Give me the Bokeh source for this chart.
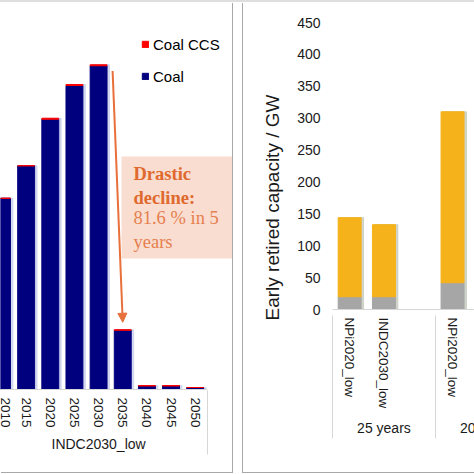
from bokeh.plotting import figure
from bokeh.layouts import row, column
from bokeh.models import (Range1d, LinearAxis, FixedTicker, Legend, LegendItem,
                          BoxAnnotation, Label, Arrow, NormalHead, Spacer,
                          ColumnDataSource, Title)
from bokeh.transform import dodge
from bokeh.embed import file_html
from bokeh.resources import INLINE

# ---------------- data ----------------
# Left panel: coal power capacity in the INDC2030_low pathway (GW)
years = ["2010", "2015", "2020", "2025", "2030", "2035", "2040", "2045", "2050"]
coal = [765, 895, 1081, 1216, 1295, 237, 14, 14, 8]
coal_ccs = [0, 0, 4, 4, 4, 2, 2, 2, 0]
scenario_left = "INDC2030_low"

# Right panel: early retired capacity (GW) by lifetime assumption and scenario
groups = ["25 years", "20 years"]
group_scenarios = [["NPi2020_low", "INDC2030_low"], ["NPi2020_low"]]
retired_lower = [20, 20, 42]
retired_upper = [124, 113, 268]

# ---------------- styling ----------------
SANS = "Liberation Sans"
SERIF = "Liberation Serif"
NAVY = "#00007f"
RED = "#ff0000"
ORANGE = "#f5b21a"
GRAY = "#a6a6a6"
NOTE = "#e0692e"
TEXT = "#1a1a1a"
RULE = "#d6d6d6"
PANEL_H = 470


def blank_axis(**kw):
    """Axis without tick labels, used only for its tick lines."""
    opts = dict(major_tick_in=0, major_tick_out=0, minor_tick_out=0,
                axis_line_color=None, major_label_text_font_size="0px",
                major_label_standoff=0)
    opts.update(kw)
    return LinearAxis(**opts)


# ---------------- left panel ----------------
xs_left = list(range(len(years)))
total_left = [c + s for c, s in zip(coal, coal_ccs)]
src_left = ColumnDataSource(dict(x=xs_left, coal=coal, total=total_left))

left = figure(width=232, height=PANEL_H, x_range=Range1d(-0.062, 9.545),
              y_range=Range1d(0, 1548), x_axis_type=None, y_axis_type=None,
              output_backend="svg", toolbar_location=None, frame_align=False,
              min_border_left=0, min_border_right=0, min_border_top=0,
              min_border_bottom=83)
left.outline_line_color = None
left.styles = {"box-shadow": "1px 1px 0 0 #a8a8a8"}

left.vbar(x=dodge("x", 0.1, range=left.x_range), top="total", width=0.7,
          source=src_left, color="#c9cfee", alpha=0.8)
r_coal = left.vbar(x="x", top="coal", width=0.7, source=src_left, color=NAVY)
r_ccs = left.vbar(x="x", bottom="coal", top="total", width=0.7, source=src_left,
                  color=RED)

ax_years = LinearAxis(
    ticker=FixedTicker(ticks=xs_left, minor_ticks=[]),
    major_label_overrides={i: y for i, y in enumerate(years)},
    major_label_orientation="vertical", major_label_standoff=8,
    major_label_text_font=SANS, major_label_text_font_size="13.5px",
    major_label_text_color=TEXT, major_tick_in=0, major_tick_out=0,
    minor_tick_out=0, axis_line_color=RULE, bounds=(-0.5, len(years) - 0.5))
left.add_layout(ax_years, "below")

ax_scen = LinearAxis(
    ticker=FixedTicker(ticks=[(len(years) - 1) / 2], minor_ticks=[]),
    major_label_overrides={(len(years) - 1) / 2: scenario_left},
    major_label_standoff=5, major_label_text_font=SANS,
    major_label_text_font_size="14px", major_label_text_color=TEXT,
    major_tick_in=0, major_tick_out=0, minor_tick_out=0, axis_line_color=None)
left.add_layout(ax_scen, "below")

# group separator reaching up from under the scenario label
left.add_layout(blank_axis(
    ticker=FixedTicker(ticks=[], minor_ticks=[-0.5, len(years) - 0.5]),
    minor_tick_in=64, minor_tick_line_color=RULE), "below")

legend = Legend(items=[LegendItem(label="Coal CCS", renderers=[r_ccs]),
                       LegendItem(label="Coal", renderers=[r_coal])],
                location=(141, 304), orientation="vertical",
                background_fill_alpha=0, border_line_color=None,
                padding=0, margin=0, spacing=14, label_height=18,
                glyph_height=8, glyph_width=8, label_standoff=4,
                label_text_font=SANS, label_text_font_size="15px",
                label_text_color="#000000")
left.add_layout(legend)

# call-out box with the drop between 2030 and 2035
i30, i35 = years.index("2030"), years.index("2035")
drop = 1 - total_left[i35] / total_left[i30]
left.add_layout(BoxAnnotation(left=4.95, bottom=524, top=932,
                              fill_color="#f9ddd0", fill_alpha=1,
                              line_color=None, level="underlay"))
left.add_layout(Label(x=5.445, y=904, text="Drastic\ndecline:",
                      text_font=SERIF, text_font_style="bold",
                      text_font_size="18.5px", text_color=NOTE,
                      text_baseline="top", text_line_height=1.2))
left.add_layout(Label(x=5.445, y=726,
                      text=f"{drop * 100:.1f} % in 5\nyears",
                      text_font=SERIF, text_font_size="18.5px",
                      text_color="#e6804f", text_baseline="top",
                      text_line_height=1.2))
left.add_layout(Arrow(x_start=i30 + 0.58, y_start=total_left[i30] - 25,
                      x_end=i35, y_end=total_left[i35] + 30,
                      line_color="#e8703a", line_width=2,
                      end=NormalHead(size=9, fill_color="#e8703a",
                                     line_color="#e8703a")))

# ---------------- right panel ----------------
per_group = 3
xs_right, tick_labels = [], {}
for g, names in enumerate(group_scenarios):
    for k, name in enumerate(names):
        xs_right.append(g * per_group + k)
        tick_labels[g * per_group + k] = name
total_right = [a + b for a, b in zip(retired_lower, retired_upper)]
src_right = ColumnDataSource(dict(x=xs_right, lower=retired_lower,
                                  total=total_right))

# the panel runs on past the right edge of the page
right = figure(width=297, height=PANEL_H, x_range=Range1d(-0.5, 5.564),
               y_range=Range1d(0, 450), x_axis_type=None, y_axis_type=None,
               output_backend="svg", toolbar_location=None, frame_align=False,
               min_border_left=89, min_border_right=0, min_border_top=20,
               min_border_bottom=163)
right.outline_line_color = None
right.styles = {"box-shadow": "-1px 1px 0 0 #a8a8a8"}

right.vbar(x=dodge("x", 0.07, range=right.x_range), top="total", width=0.67,
           source=src_right, color="#c5cabd", alpha=0.8)
right.vbar(x="x", top="lower", width=0.67, source=src_right, color=GRAY)
right.vbar(x="x", bottom="lower", top="total", width=0.67, source=src_right,
           color=ORANGE)

ax_y = LinearAxis(
    ticker=FixedTicker(ticks=list(range(0, 451, 50)), minor_ticks=[]),
    major_label_standoff=12, major_label_text_font=SANS,
    major_label_text_font_size="14px", major_label_text_color=TEXT,
    major_tick_in=0, major_tick_out=0, minor_tick_out=0,
    axis_line_color=None)
right.add_layout(ax_y, "left")

# value-axis title, starting just below the zero line
right.add_layout(Title(text="Early retired capacity / GW", align="left",
                       offset=-11, standoff=23, text_font=SANS,
                       text_font_size="19px", text_font_style="normal",
                       text_color=TEXT), "left")

bounds_r = [g * per_group - 0.5 for g in range(len(groups) + 1)]
ax_cat = LinearAxis(
    ticker=FixedTicker(ticks=xs_right, minor_ticks=[]),
    major_label_overrides=tick_labels, major_label_orientation="vertical",
    major_label_standoff=8, major_label_text_font=SANS,
    major_label_text_font_size="13.5px", major_label_text_color=TEXT,
    major_tick_in=0, major_tick_out=0, minor_tick_out=0, axis_line_color=RULE)
right.add_layout(ax_cat, "below")

centers = [g * per_group + 1 for g in range(len(groups))]
ax_grp = LinearAxis(
    ticker=FixedTicker(ticks=centers, minor_ticks=[]),
    major_label_overrides={c: n for c, n in zip(centers, groups)},
    major_label_standoff=8, major_label_text_font=SANS,
    major_label_text_font_size="14px", major_label_text_color=TEXT,
    major_tick_in=0, major_tick_out=0, minor_tick_out=0, axis_line_color=None)
right.add_layout(ax_grp, "below")

right.add_layout(blank_axis(ticker=FixedTicker(ticks=[], minor_ticks=bounds_r),
                            minor_tick_in=123, minor_tick_line_color=RULE),
                 "below")

top_band = Spacer(width=474, height=2, styles={"background-color": "#dedede"})
panels = row(left, Spacer(width=11, height=PANEL_H), right)
layout = column(top_band, panels, width=474, height=474,
                styles={"overflow": "hidden"})
open("out.html", "w").write(file_html(layout, INLINE))
